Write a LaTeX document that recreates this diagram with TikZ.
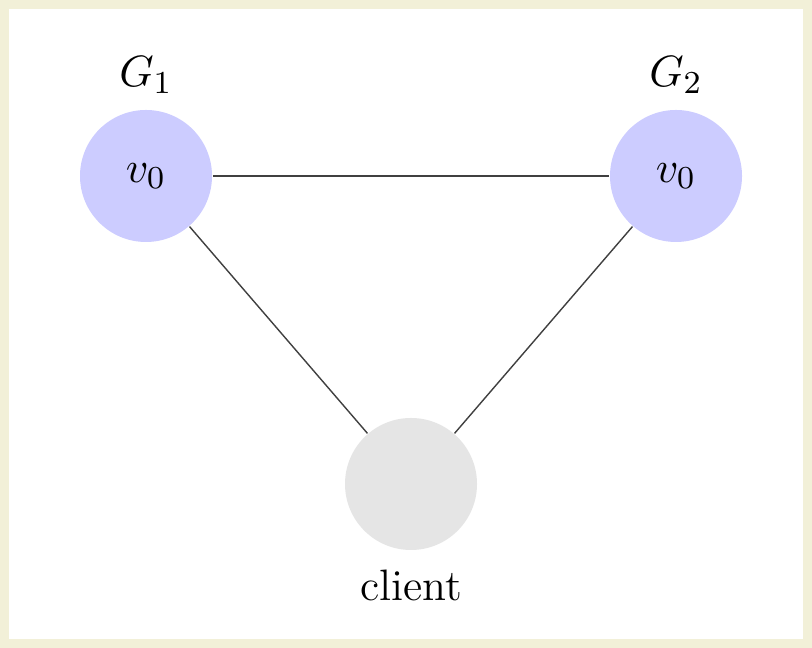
\documentclass[tikz,border=0pt]{standalone}
\begin{document}
\begin{tikzpicture}[x=0.25pt,y=-0.25pt,
  every node/.style={font=\fontsize{11}{13}\selectfont},
  vert/.style={circle,minimum size=132*0.25pt,inner sep=0pt},
  edge/.style={draw=black!75,line width=0.35pt}]
\definecolor{bord}{RGB}{242,240,216}
\fill[bord] (0,0) rectangle (812,648);
\fill[white] (9,9) rectangle (803,639);
\node[vert,fill=blue!20] (a) at (146,176) {$v_0$};
\node[vert,fill=blue!20] (b) at (676,176) {$v_0$};
\node[vert,fill=black!10] (c) at (411,484) {};
\node (la) at (146,75) {$G_1$};
\node (lb) at (676,75) {$G_2$};
\node (lc) at (411,585) {client};
\draw[edge] (a) -- (b);
\draw[edge] (a) -- (c);
\draw[edge] (b) -- (c);
\end{tikzpicture}
\end{document}
